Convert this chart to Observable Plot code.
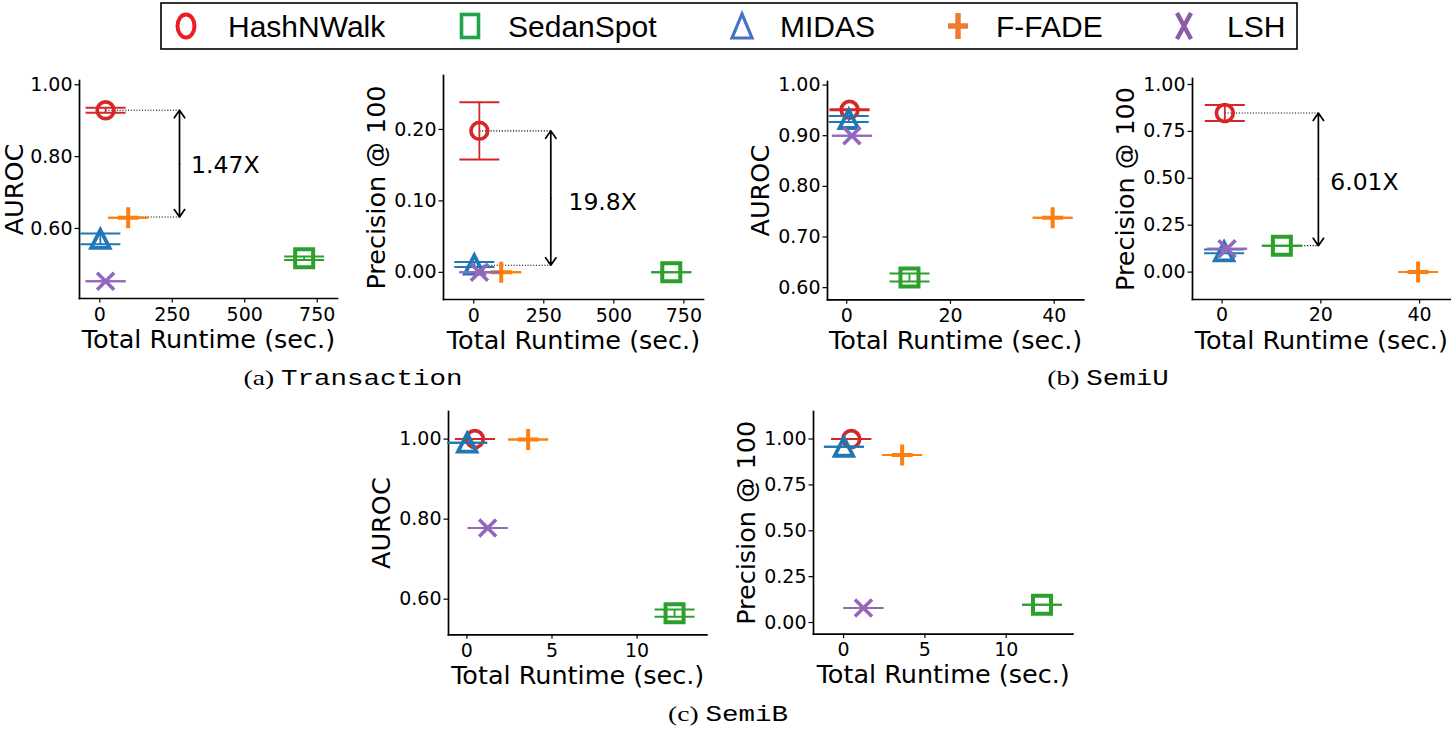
<!DOCTYPE html>
<html>
<head>
<meta charset="utf-8">
<script src="https://cdn.jsdelivr.net/npm/d3@7"></script>
<script src="https://cdn.jsdelivr.net/npm/@observablehq/plot@0.6"></script>
<style>
  body { margin: 0; background: #fff; }
  #fig { position: relative; width: 1453px; height: 730px; background: #fff; overflow: hidden; }
  .panel { position: absolute; }
  .panel svg { background: transparent !important; max-width: none !important; overflow: visible; }
  .cap { position: absolute; white-space: nowrap; font-size: 22px; line-height: 22px; color: #000;
         transform: translateX(-50%) scaleX(1.25); }
  .cap .ser { font-family: "Liberation Serif", "DejaVu Serif", serif; }
  .cap .mono { font-family: "Liberation Mono", "DejaVu Sans Mono", monospace; }
</style>
</head>
<body>
<div id="fig"></div>
<script>
// ---------------- data ----------------
const methods = ["HashNWalk", "SedanSpot", "MIDAS", "F-FADE", "LSH"];

// (a) Transaction
const transactionRuntime   = [20, 705, 2, 98, 20];
const transactionAuroc     = [0.929, 0.517, 0.571, 0.630, 0.453];
const transactionAurocErr  = [0.007, 0.005, 0.015, 0.000, 0.000];
const transactionPrec      = [0.198, 0.000, 0.011, 0.000, 0.000];
const transactionPrecErr   = [0.040, 0.000, 0.0035, 0.000, 0.000];

// (b) SemiU
const semiURuntime  = [0.55, 12.1, 0.4, 39.7, 1.0];
const semiUAuroc    = [0.951, 0.620, 0.933, 0.738, 0.900];
const semiUAurocErr = [0.001, 0.008, 0.006, 0.000, 0.000];
const semiUPrec     = [0.848, 0.141, 0.110, 0.000, 0.125];
const semiUPrecErr  = [0.043, 0.000, 0.010, 0.000, 0.000];

// (c) SemiB
const semiBRuntime  = [0.47, 12.2, 0.02, 3.6, 1.22];
const semiBAuroc    = [1.000, 0.565, 0.991, 0.999, 0.778];
const semiBAurocErr = [0.000, 0.009, 0.000, 0.000, 0.000];
const semiBPrec     = [1.000, 0.097, 0.958, 0.913, 0.079];
const semiBPrecErr  = [0.000, 0.000, 0.000, 0.000, 0.000];

// tick labels
const transactionXTicks = [0, 250, 500, 750];
const semiUXTicks = [0, 20, 40];
const semiBXTicks = [0, 5, 10];
const transactionAurocTicks = [0.6, 0.8, 1.0];
const transactionPrecTicks = [0.0, 0.1, 0.2];
const semiUAurocTicks = [0.6, 0.7, 0.8, 0.9, 1.0];
const quarterTicks = [0.0, 0.25, 0.5, 0.75, 1.0];
const semiBAurocTicks = [0.6, 0.8, 1.0];

// annotations (improvement ratios)
const annLabels = ["1.47X", "19.8X", "6.01X"];
const annArrowX = [275, 275, 19.5];
const annTopX = [20, 20, 0.55];
const annTopY = [0.929, 0.198, 0.848];
const annBottomX = [98, 2, 12.1];
const annBottomY = [0.632, 0.010, 0.141];
const annTextX = [315, 338, 21.9];
const annTextY = [0.775, 0.098, 0.48];

const xLabel = "Total Runtime (sec.)";

// ---------------- styles ----------------
const colors = {HashNWalk: "#d62728", SedanSpot: "#2ca02c", MIDAS: "#1f77b4", "F-FADE": "#ff7f0e", LSH: "#9467bd"};
const sym = {
  HashNWalk: {draw(c) { c.moveTo(8.4, 0); c.arc(0, 0, 8.4, 0, 2 * Math.PI); c.closePath(); }},
  SedanSpot: {draw(c) { c.moveTo(-9, -9); c.lineTo(9, -9); c.lineTo(9, 9); c.lineTo(-9, 9); c.closePath(); }},
  MIDAS: {draw(c) { c.moveTo(0, -9); c.lineTo(-9.2, 9); c.lineTo(9.2, 9); c.closePath(); }},
  "F-FADE": {draw(c) { c.moveTo(-10.5, 0); c.lineTo(10.5, 0); c.moveTo(0, -10.5); c.lineTo(0, 10.5); }},
  LSH: {draw(c) { c.moveTo(-8.5, -8.5); c.lineTo(8.5, 8.5); c.moveTo(-8.5, 8.5); c.lineTo(8.5, -8.5); }}
};
const symWidth = {HashNWalk: 3.7, SedanSpot: 4, MIDAS: 3.8, "F-FADE": 4, LSH: 3.6};
const capSym = {draw(c) { c.moveTo(-20, 0); c.lineTo(20, 0); }};

const fig = document.getElementById("fig");

function makePanel(cfg) {
  const rows = methods.map((m, i) => ({method: m, x: cfg.runtime[i], y: cfg.value[i], err: cfg.err[i]}));
  const mL = 80, mR = 3, mT = 10, mB = 66;
  const width = cfg.R - cfg.L + mL + mR;
  const height = cfg.B - cfg.T + mT + mB;
  const marks = [
    Plot.frame({anchor: "left", stroke: "black", strokeWidth: 1.7}),
    Plot.frame({anchor: "bottom", stroke: "black", strokeWidth: 1.7}),
    Plot.axisX({ticks: cfg.xTicks, tickFormat: d3.format("d"), tickSize: 4.5, tickPadding: 4, label: null, strokeWidth: 1.2}),
    Plot.axisY({ticks: cfg.yTicks, tickFormat: d3.format(".2f"), tickSize: 4.5, tickPadding: 2.5, label: null, strokeWidth: 1.2}),
    Plot.text([xLabel], {text: d => d, frameAnchor: "bottom", textAnchor: "middle", dy: 41, fontSize: 25.5, lineAnchor: "middle"}),
    Plot.text([cfg.yLabel], {text: d => d, frameAnchor: "left", textAnchor: "middle", rotate: -90, dx: -cfg.yOff, fontSize: 25.5, lineAnchor: "middle"})
  ];
  if (cfg.ann != null) {
    const k = cfg.ann;
    const a = [{xt: annTopX[k], yt: annTopY[k], xb: annBottomX[k], yb: annBottomY[k], xa: annArrowX[k],
                tx: annTextX[k], ty: annTextY[k], label: annLabels[k]}];
    marks.push(
      Plot.link(a, {x1: "xt", x2: "xa", y1: "yt", y2: "yt", stroke: "black", strokeWidth: 1.1, strokeDasharray: "1.1,1.7"}),
      Plot.link(a, {x1: "xb", x2: "xa", y1: "yb", y2: "yb", stroke: "black", strokeWidth: 1.1, strokeDasharray: "1.1,1.7"}),
      Plot.arrow(a, {x1: "xa", x2: "xa", y1: d => (d.yt + d.yb) / 2, y2: "yt", stroke: "black", strokeWidth: 1.7, headLength: 8, headAngle: 70}),
      Plot.arrow(a, {x1: "xa", x2: "xa", y1: d => (d.yt + d.yb) / 2, y2: "yb", stroke: "black", strokeWidth: 1.7, headLength: 8, headAngle: 70}),
      Plot.text(a, {x: "tx", y: "ty", text: "label", textAnchor: "start", fontSize: 23.5, lineAnchor: "middle"})
    );
  }
  for (const r of rows) {
    const col = colors[r.method];
    marks.push(
      Plot.ruleX([r], {x: "x", y1: d => d.y - d.err, y2: d => d.y + d.err, stroke: col, strokeWidth: 1.8}),
      Plot.dot([r], {x: "x", y: d => d.y + d.err, symbol: capSym, stroke: col, strokeWidth: 2, fill: "none"}),
      Plot.dot([r], {x: "x", y: d => d.y - d.err, symbol: capSym, stroke: col, strokeWidth: 2, fill: "none"}),
      Plot.dot([r], {x: "x", y: "y", symbol: sym[r.method], stroke: col, strokeWidth: symWidth[r.method], fill: "none"})
    );
  }
  const svg = Plot.plot({
    width, height, marginLeft: mL, marginRight: mR, marginTop: mT, marginBottom: mB,
    x: {domain: cfg.xDomain},
    y: {domain: cfg.yDomain},
    style: {fontFamily: "DejaVu Sans", fontSize: "19px", color: "black", background: "transparent"},
    marks
  });
  const div = document.createElement("div");
  div.className = "panel";
  div.style.left = (cfg.L - mL) + "px";
  div.style.top = (cfg.T - mT) + "px";
  div.style.width = width + "px";
  div.style.height = height + "px";
  div.appendChild(svg);
  fig.appendChild(div);
}

makePanel({L: 79, R: 337, T: 80, B: 298, xDomain: [-70, 820], yDomain: [0.405, 1.012],
  runtime: transactionRuntime, value: transactionAuroc, err: transactionAurocErr,
  xTicks: transactionXTicks, yTicks: transactionAurocTicks, yLabel: "AUROC", yOff: 64.5, ann: 0});
makePanel({L: 443, R: 703, T: 75, B: 299, xDomain: [-108, 820], yDomain: [-0.038, 0.2755],
  runtime: transactionRuntime, value: transactionPrec, err: transactionPrecErr,
  xTicks: transactionXTicks, yTicks: transactionPrecTicks, yLabel: "Precision @ 100", yOff: 67, ann: 1});
makePanel({L: 826.7, R: 1083, T: 80.7, B: 299, xDomain: [-3.7, 45.7], yDomain: [0.576, 1.007],
  runtime: semiURuntime, value: semiUAuroc, err: semiUAurocErr,
  xTicks: semiUXTicks, yTicks: semiUAurocTicks, yLabel: "AUROC", yOff: 67, ann: null});
makePanel({L: 1192.3, R: 1450, T: 78, B: 299, xDomain: [-6, 46.2], yDomain: [-0.146, 1.032],
  runtime: semiURuntime, value: semiUPrec, err: semiUPrecErr,
  xTicks: semiUXTicks, yTicks: quarterTicks, yLabel: "Precision @ 100", yOff: 67, ann: 2});
makePanel({L: 448.3, R: 706.7, T: 410.7, B: 634, xDomain: [-1.08, 14.1], yDomain: [0.511, 1.069],
  runtime: semiBRuntime, value: semiBAuroc, err: semiBAurocErr,
  xTicks: semiBXTicks, yTicks: semiBAurocTicks, yLabel: "AUROC", yOff: 66.6, ann: null});
makePanel({L: 813.3, R: 1072.7, T: 410.7, B: 633.3, xDomain: [-1.85, 14.1], yDomain: [-0.063, 1.15],
  runtime: semiBRuntime, value: semiBPrec, err: semiBPrecErr,
  xTicks: semiBXTicks, yTicks: quarterTicks, yLabel: "Precision @ 100", yOff: 66.6, ann: null});

// ---------------- captions ----------------
const captions = [
  {tag: "(a)", name: "Transaction", cx: 353, top: 367},
  {tag: "(b)", name: "SemiU", cx: 1108, top: 367},
  {tag: "(c)", name: "SemiB", cx: 728, top: 703}
];
for (const c of captions) {
  const d = document.createElement("div");
  d.className = "cap";
  d.style.left = c.cx + "px";
  d.style.top = c.top + "px";
  d.innerHTML = `<span class="ser">${c.tag}</span><span class="ser">&nbsp;</span><span class="mono">${c.name}</span>`;
  fig.appendChild(d);
}

// ---------------- legend ----------------
const legendColors = {HashNWalk: "#ee1c24", SedanSpot: "#1ea44b", MIDAS: "#4472c4", "F-FADE": "#ed7d31", LSH: "#8e5ba8"};
const legendMarkerX = [186, 470, 742, 958, 1184];
const legendTextX = [228, 508, 780, 996, 1227];
const lg = d3.select(fig).append("svg")
  .attr("width", 1453).attr("height", 56)
  .style("position", "absolute").style("left", "0px").style("top", "0px");
lg.append("rect").attr("x", 161).attr("y", 3).attr("width", 1136).attr("height", 46)
  .attr("fill", "white").attr("stroke", "black").attr("stroke-width", 1.6);
methods.forEach((m, i) => {
  const cx = legendMarkerX[i], cy = 26, col = legendColors[m];
  const g = lg.append("g").attr("fill", "none").attr("stroke", col);
  if (m === "HashNWalk") g.append("ellipse").attr("cx", cx).attr("cy", cy).attr("rx", 8.5).attr("ry", 11.5).attr("stroke-width", 4);
  if (m === "SedanSpot") g.append("rect").attr("x", cx - 8.5).attr("y", cy - 11.5).attr("width", 17).attr("height", 23).attr("stroke-width", 3.6);
  if (m === "MIDAS") g.append("path").attr("d", `M${cx},${cy - 12}L${cx - 10},${cy + 12}L${cx + 10},${cy + 12}Z`).attr("stroke-width", 3.2);
  if (m === "F-FADE") g.append("path").attr("d", `M${cx - 10},${cy}L${cx + 10},${cy}M${cx},${cy - 13}L${cx},${cy + 13}`).attr("stroke-width", 5.5);
  if (m === "LSH") g.append("path").attr("d", `M${cx - 7},${cy - 13}L${cx + 7},${cy + 13}M${cx - 7},${cy + 13}L${cx + 7},${cy - 13}`).attr("stroke-width", 4.5);
  lg.append("text").attr("x", legendTextX[i]).attr("y", cy + 11).text(m)
    .attr("font-family", "Liberation Sans, Arial, sans-serif").attr("font-size", 30).attr("fill", "black");
});
</script>
</body>
</html>
